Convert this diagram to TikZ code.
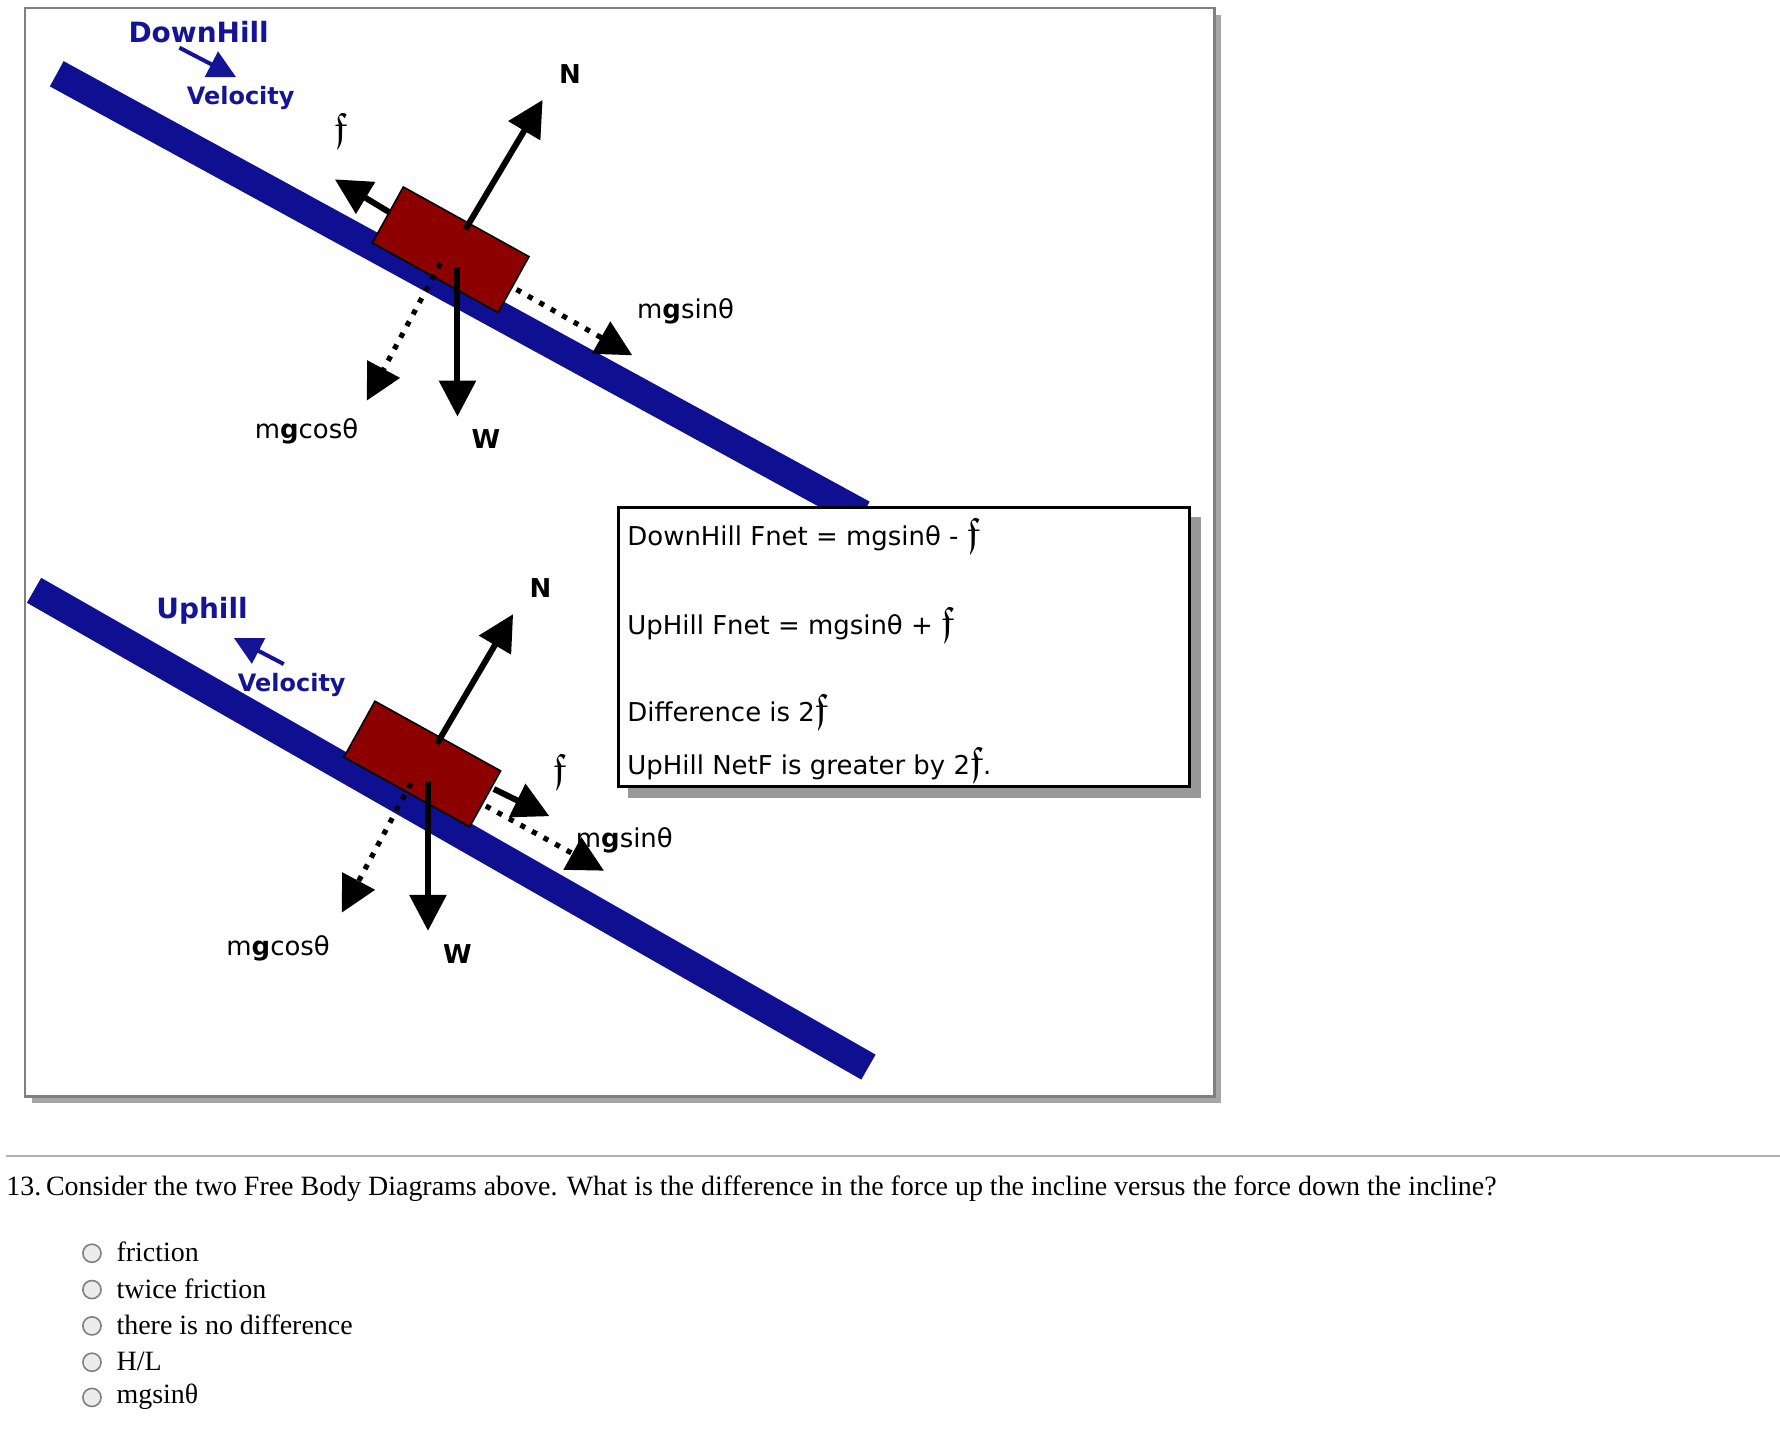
\documentclass[tikz,border=0pt]{standalone}
\usepackage{fontspec}
\usepackage{amssymb}
\setmainfont{Liberation Serif}
\newfontfamily\dv{DejaVu Sans}
\usetikzlibrary{arrows.meta}
\begin{document}
\begin{tikzpicture}[x=0.01cm,y=-0.01cm,
  band/.style={line width=7.2pt,draw={rgb,255:red,15;green,15;blue,145}},
  blk/.style={draw=black,line width=0.4pt,fill={rgb,255:red,140;green,0;blue,0},minimum width=36pt,minimum height=16pt,rotate=-29},
  farrow/.style={line width=1.5pt,-{Triangle[length=9pt,width=9pt]}},
  darrow/.style={line width=1.3pt,dotted,-{Triangle[length=9pt,width=9pt]}},
  varrow/.style={line width=1pt,draw={rgb,255:red,20;green,20;blue,150},-{Triangle[length=7pt,width=7pt]}},
  lbl/.style={font=\dv\fontsize{6.5}{8}\selectfont},
  blbl/.style={font=\dv\bfseries\fontsize{6.5}{8}\selectfont},
  vlbl/.style={font=\dv\bfseries\fontsize{6}{8}\selectfont,text={rgb,255:red,20;green,20;blue,150}},
  ff/.style={font=\fontsize{10}{10}\selectfont}]
\useasboundingbox (0,0) rectangle (1568,1258);
% frame with shadow
\fill[gray!70] (28,13) rectangle (1076,972);
\draw[fill=white,line width=0.6pt,draw=gray] (22,7) rectangle (1070,966);
% top diagram
\draw[band] (50,65) -- (760,453);
\node[blk] (b1) at (397,220) {};
\coordinate (n1) at (478,88);
\draw[farrow] (410,202) -- (n1);
\node[blbl] (N1) at (502,65) {N};
\coordinate (f1) at (295,158);
\draw[farrow] (343,187) -- (f1);
\node[ff] (F1) at (300,115) {$\mathfrak{f}$};
\coordinate (s1) at (557,313);
\draw[darrow] (455,255) -- (s1);
\node[lbl] (S1) at (604,274) {m\textbf{g}sinθ};
\coordinate (w1) at (403,367);
\draw[farrow] (403,235) -- (w1);
\node[blbl] (W1) at (428,387) {W};
\coordinate (c1) at (323,353);
\draw[darrow] (388,232) -- (c1);
\node[lbl] (C1) at (270,380) {m\textbf{g}cosθ};
\node[vlbl,font=\dv\bfseries\fontsize{7}{8}\selectfont] (dh) at (175,28) {DownHill};
\coordinate (v1) at (208,68);
\draw[varrow] (158,42) -- (v1);
\node[vlbl] (vel1) at (212,86) {Velocity};
% bottom diagram
\draw[band] (30,520) -- (765,940);
\node[blk] (b2) at (372,673) {};
\coordinate (n2) at (452,541);
\draw[farrow] (385,655) -- (n2);
\node[blbl] (N2) at (476,518) {N};
\node[vlbl,font=\dv\bfseries\fontsize{7}{8}\selectfont] (uh) at (178,538) {Uphill};
\coordinate (v2) at (206,562);
\draw[varrow] (250,585) -- (v2);
\node[vlbl] (vel2) at (257,603) {Velocity};
\coordinate (f2) at (484,719);
\draw[farrow] (435,695) -- (f2);
\node[ff] (F2) at (493,680) {$\mathfrak{f}$};
\coordinate (s2) at (532,767);
\draw[darrow] (428,710) -- (s2);
\node[lbl] (S2) at (550,740) {m\textbf{g}sinθ};
\coordinate (w2) at (377,820);
\draw[farrow] (377,688) -- (w2);
\node[blbl] (W2) at (403,840) {W};
\coordinate (c2) at (301,804);
\draw[darrow] (362,690) -- (c2);
\node[lbl] (C2) at (245,835) {m\textbf{g}cosθ};
% text box
\fill[gray!80] (553,455) rectangle (1058,703);
\draw[fill=white,line width=0.6pt] (545,447) rectangle (1048,693);
\node[lbl,anchor=west,inner sep=0pt] (t1) at (552,472) {DownHill Fnet = mgsinθ - {\fontsize{10}{10}\selectfont$\mathfrak{f}$}};
\node[lbl,anchor=west,inner sep=0pt] (t2) at (552,550) {UpHill Fnet = mgsinθ + {\fontsize{10}{10}\selectfont$\mathfrak{f}$}};
\node[lbl,anchor=west,inner sep=0pt] (t3) at (552,627) {Difference is 2{\fontsize{10}{10}\selectfont$\mathfrak{f}$}};
\node[lbl,anchor=west,inner sep=0pt] (t4) at (552,673) {UpHill NetF is greater by 2{\fontsize{10}{10}\selectfont$\mathfrak{f}$}.};
% question
\draw[gray!60,line width=0.5pt] (5,1018) -- (1568,1018);
\node[anchor=west,inner sep=0pt,font=\fontsize{7}{9}\selectfont] (q) at (5,1047) {13.\,Consider the two Free Body Diagrams above. What is the difference in the force up the incline versus the force down the incline?};
\foreach \y/\t [count=\i] in {1103/friction,1135/twice friction,1167/there is no difference,1199/{H/L},1230/mgsinθ}{
  \draw[gray,fill=gray!15,line width=0.4pt] (81,\y+1) circle (8);
  \node[anchor=west,inner sep=0pt,font=\fontsize{7}{9}\selectfont] (o\i) at (102,\y) {\t};
}
\end{tikzpicture}
\end{document}
